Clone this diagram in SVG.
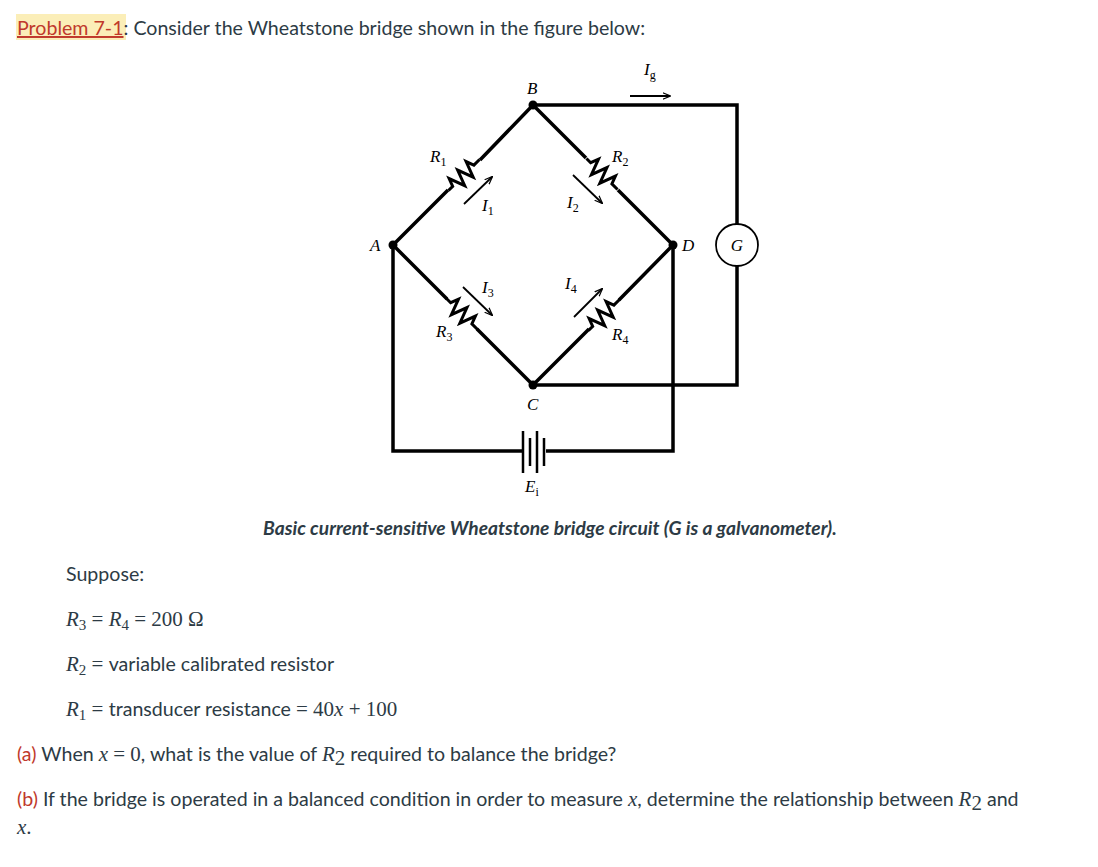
<svg xmlns="http://www.w3.org/2000/svg" width="1098" height="867" viewBox="0 0 1098 867">
<style>
.w{fill:none;stroke:#000;stroke-width:3.5;stroke-linejoin:miter}
.t{fill:none;stroke:#000;stroke-width:1.8}
.m{font-family:"Liberation Serif","DejaVu Serif",serif;font-style:italic;font-size:17px;fill:#000}
.s{font-size:12px;font-style:normal}
.b{font-family:Lato,"Liberation Sans",sans-serif;font-size:19.6px;fill:#2d3b45}
.mt{font-family:"Liberation Serif","DejaVu Serif",serif;font-size:21px;fill:#2d3b45}
.i{font-style:italic}
.r{fill:#c0392b}
</style>
<defs>
<marker id="ah" viewBox="0 0 10 10" refX="9" refY="5" markerWidth="8" markerHeight="8" orient="auto" markerUnits="userSpaceOnUse">
<path d="M0,1 L10,5 L0,9" fill="none" stroke="#000" stroke-width="1.5"/>
</marker>
<path id="zz" d="M-22,0 L-16,0 L-13,-8 L-7,8 L-1,-8 L5,8 L11,-8 L14,0 L22,0" fill="none" stroke="#000" stroke-width="3"/>
</defs>
<rect width="1098" height="867" fill="#fff"/>
<g id="title">
<rect x="16" y="14" width="110" height="26" fill="#fbeeb8"/>
<text x="17" y="35" class="b"><tspan class="r" text-decoration="underline">Problem 7-1</tspan>:  Consider the Wheatstone bridge shown in the figure below:</text>
</g>
<g id="connectors">
<path class="w" d="M393,245 L448,190 M480,160 L533,105 L586,158 M618,190 L673,245 M393,245 L447,299 M477,329 L533,385 L589,329 M619,300 L673,245"/>
<path class="w" d="M533,105 L737,105 L737,224 M737,266 L737,385 L533,385"/>
<path class="w" d="M393,245 L393,451 L522,451 M546,451 L673,451 L673,245"/>
<path class="t" d="M630,96 L670,96" marker-end="url(#ah)"/>
<path class="t" d="M464,204 L492,177" marker-end="url(#ah)"/>
<path class="t" d="M573,175 L602,203" marker-end="url(#ah)"/>
<path class="t" d="M463,287 L492,315" marker-end="url(#ah)"/>
<path class="t" d="M574,317 L602,289" marker-end="url(#ah)"/>
</g>
<g id="R1"><use href="#zz" transform="translate(464,175) rotate(-45)"/><text x="430" y="162" class="m">R<tspan class="s" dy="4">1</tspan></text></g>
<g id="R2"><use href="#zz" transform="translate(602,174) rotate(45)"/><text x="612" y="162" class="m">R<tspan class="s" dy="4">2</tspan></text></g>
<g id="R3"><use href="#zz" transform="translate(462,314) rotate(45)"/><text x="436" y="337" class="m">R<tspan class="s" dy="4">3</tspan></text></g>
<g id="R4"><use href="#zz" transform="translate(604,315) rotate(-45)"/><text x="612" y="340" class="m">R<tspan class="s" dy="4">4</tspan></text></g>
<g id="currents">
<text x="482" y="211" class="m">I<tspan class="s" dy="4">1</tspan></text>
<text x="567" y="208" class="m">I<tspan class="s" dy="4">2</tspan></text>
<text x="482" y="293" class="m">I<tspan class="s" dy="4">3</tspan></text>
<text x="565" y="289" class="m">I<tspan class="s" dy="4">4</tspan></text>
<text x="644" y="75" class="m">I<tspan class="s" dy="4">g</tspan></text>
</g>
<g id="nodes">
<circle cx="533" cy="105" r="4.5"/><text x="527" y="94" class="m">B</text>
<circle cx="393" cy="245" r="4.5"/><text x="370" y="251" class="m">A</text>
<circle cx="673" cy="245" r="4.5"/><text x="682" y="251" class="m">D</text>
<circle cx="533" cy="385" r="4.5"/><text x="527" y="410" class="m">C</text>
</g>
<g id="G"><circle cx="737" cy="245" r="21" fill="#fff" stroke="#000" stroke-width="1.8"/><text x="737" y="251" class="m" text-anchor="middle">G</text></g>
<g id="battery">
<path stroke="#000" stroke-width="2.5" d="M523,431 V473 M530,438 V466 M537,431 V473 M544,438 V466"/>
<text x="525" y="492" class="m">E<tspan class="s" dy="4">i</tspan></text>
</g>
<text x="263" y="535" font-family="Lato,'Liberation Sans',sans-serif" font-size="19.2" font-weight="bold" font-style="italic" fill="#2d3b45">Basic current-sensitive Wheatstone bridge circuit (G is a galvanometer).</text>
<g id="body">
<text x="66" y="581" class="b">Suppose:</text>
<text x="66" y="626" class="mt"><tspan class="i">R</tspan><tspan font-size="15" dy="4">3</tspan><tspan dy="-4"> = </tspan><tspan class="i">R</tspan><tspan font-size="15" dy="4">4</tspan><tspan dy="-4"> = 200 Ω</tspan></text>
<text x="66" y="671" class="mt"><tspan class="i">R</tspan><tspan font-size="15" dy="4">2</tspan><tspan dy="-4"> = </tspan><tspan class="b">variable calibrated resistor</tspan></text>
<text x="66" y="716" class="mt"><tspan class="i">R</tspan><tspan font-size="15" dy="4">1</tspan><tspan dy="-4"> = </tspan><tspan class="b">transducer resistance </tspan><tspan>= 40</tspan><tspan class="i">x</tspan><tspan> + 100</tspan></text>
<text x="17" y="761" class="b"><tspan class="r">(a)</tspan> When <tspan class="mt i">x</tspan><tspan class="mt"> = 0</tspan>, what is the value of <tspan class="mt i">R</tspan><tspan class="mt" font-size="15" dy="4">2</tspan><tspan dy="-4"> required to balance the bridge?</tspan></text>
<text x="17" y="806" class="b"><tspan class="r">(b)</tspan> If the bridge is operated in a balanced condition in order to measure <tspan class="mt i">x</tspan>, determine the relationship between <tspan class="mt i">R</tspan><tspan class="mt" font-size="15" dy="4">2</tspan><tspan dy="-4"> and</tspan></text>
<text x="17" y="834" class="mt"><tspan class="i">x</tspan>.</text>
</g>
</svg>
